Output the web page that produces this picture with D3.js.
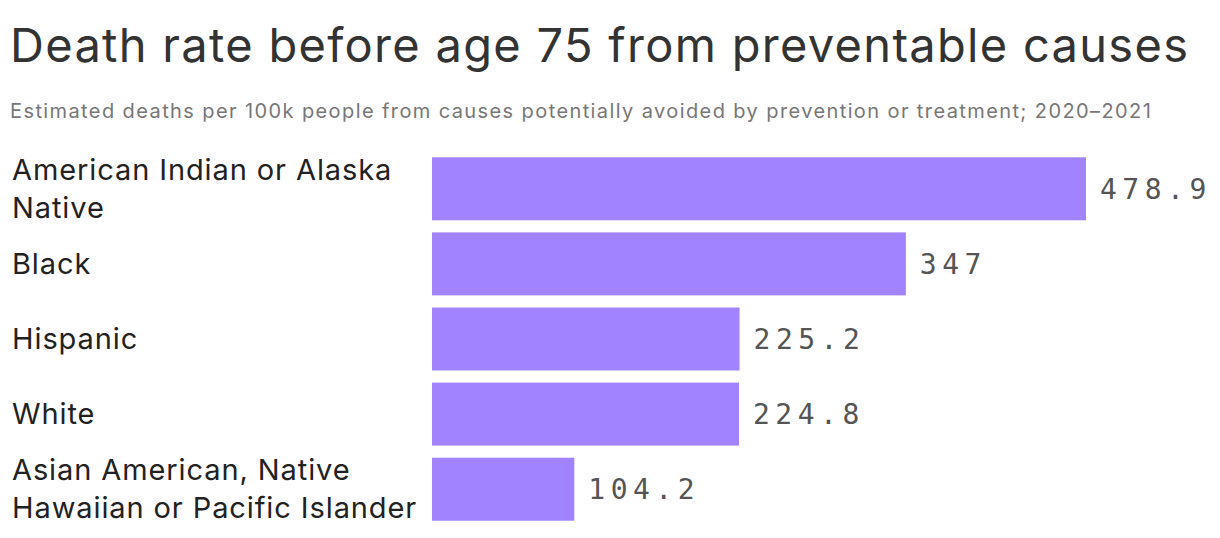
<!DOCTYPE html>
<html><head><meta charset="utf-8">
<script src="https://cdn.jsdelivr.net/npm/d3@7/dist/d3.min.js"></script>
<style>body{margin:0;background:#fff}</style></head>
<body><svg id="c" width="1220" height="538"></svg>
<script>
const categories = [["American Indian or Alaska","Native"],["Black"],["Hispanic"],["White"],["Asian American, Native","Hawaiian or Pacific Islander"]];
const values = [478.9, 347, 225.2, 224.8, 104.2];
const valueLabels = ["478.9","347","225.2","224.8","104.2"];

const svg = d3.select("#c");
svg.append("text").attr("x",10).attr("y",62).attr("font-family","Inter, sans-serif").attr("font-size",47).attr("fill","#333").attr("letter-spacing",1.3).text("Death rate before age 75 from preventable causes");
svg.append("text").attr("x",10).attr("y",118).attr("font-family","Inter, sans-serif").attr("font-size",20).attr("fill","#777").attr("letter-spacing",1.4).text("Estimated deaths per 100k people from causes potentially avoided by prevention or treatment; 2020–2021");

const x = d3.scaleLinear().domain([0, 478.9]).range([432, 1086]);
const y = d3.scaleBand().domain(d3.range(values.length)).range([152, 526]).paddingInner(0.14).paddingOuter(0.06);
const bh = 63;
const g = svg.append("g");
values.forEach((v,i)=>{
  const cy = y(i) + y.bandwidth()/2;
  g.append("rect").attr("x",x(0)).attr("y",cy-bh/2).attr("width",x(v)-x(0)).attr("height",bh).attr("fill","#a183ff");
  g.append("text").attr("x",x(v)+14).attr("y",cy+10).attr("font-family","'DejaVu Sans Mono', monospace").attr("font-size",28).attr("letter-spacing",5.5).attr("fill","#555").text(valueLabels[i]);
  const lines = categories[i];
  const t = g.append("text").attr("font-family","Inter, sans-serif").attr("font-size",29).attr("letter-spacing",0.9).attr("fill","#222");
  lines.forEach((l,j)=>{
    t.append("tspan").attr("x",12).attr("y",cy+10+(j-(lines.length-1)/2)*38).text(l);
  });
});
</script></body></html>
